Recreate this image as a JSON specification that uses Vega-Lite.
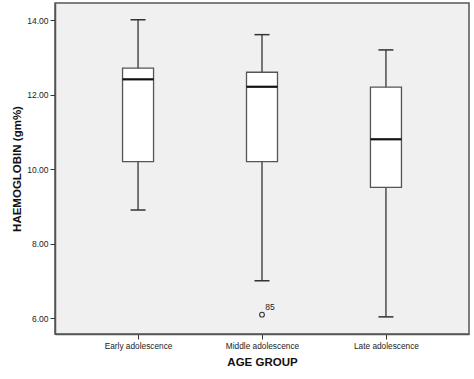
{
  "$schema": "https://vega.github.io/schema/vega-lite/v6.json",
  "width": 414,
  "height": 331,
  "autosize": {"type": "none"},
  "padding": {"left": 55, "top": 3, "right": 5, "bottom": 45},
  "background": "white",
  "config": {
    "view": {"fill": "#f0f0f0", "stroke": "#555", "strokeWidth": 1.5},
    "font": "Liberation Sans",
    "axis": {"grid": false, "domainColor": "#555", "domainWidth": 1.5, "tickColor": "#333", "labelColor": "#222", "labelFont": "Liberation Sans", "titleFont": "Liberation Sans", "titleColor": "#111"}
  },
  "datasets": {
    "boxes": [
      {"group": "Early adolescence", "low": 8.91, "q1": 10.21, "median": 12.42, "q3": 12.72, "high": 14.02},
      {"group": "Middle adolescence", "low": 7.01, "q1": 10.21, "median": 12.22, "q3": 12.61, "high": 13.62},
      {"group": "Late adolescence", "low": 6.04, "q1": 9.52, "median": 10.81, "q3": 12.21, "high": 13.21}
    ],
    "outliers": [
      {"group": "Middle adolescence", "value": 6.1, "label": "85"}
    ]
  },
  "data": {"name": "boxes"},
  "encoding": {
    "x": {
      "field": "group", "type": "nominal", "sort": null,
      "scale": {"type": "point", "padding": 0.67},
      "axis": {"title": "AGE GROUP", "titleFontSize": 11.5, "titleFontWeight": "bold", "titlePadding": 7, "labelFontSize": 8.3, "labelAngle": 0, "tickSize": 5, "labelPadding": 2}
    }
  },
  "layer": [
    {
      "mark": {"type": "rule", "color": "#333", "strokeWidth": 1.3},
      "encoding": {
        "y": {"field": "low", "type": "quantitative",
          "scale": {"domain": [5.58, 14.47], "nice": false, "zero": false},
          "axis": {"title": "HAEMOGLOBIN (gm%)", "titleFontSize": 11.5, "titleFontWeight": "bold", "titlePadding": 4, "values": [6, 8, 10, 12, 14], "format": ".2f", "labelFontSize": 8.5, "tickSize": 5, "labelPadding": 2}},
        "y2": {"field": "high"}
      }
    },
    {
      "mark": {"type": "bar", "fill": "white", "stroke": "#555", "strokeWidth": 1.3, "size": 31},
      "encoding": {
        "y": {"field": "q1", "type": "quantitative"},
        "y2": {"field": "q3"}
      }
    },
    {
      "mark": {"type": "tick", "color": "#111", "thickness": 2.2, "size": 31, "opacity": 1},
      "encoding": {"y": {"field": "median", "type": "quantitative"}}
    },
    {
      "mark": {"type": "tick", "color": "#333", "thickness": 1.5, "size": 15, "opacity": 1},
      "encoding": {"y": {"field": "high", "type": "quantitative"}}
    },
    {
      "mark": {"type": "tick", "color": "#333", "thickness": 1.5, "size": 15, "opacity": 1},
      "encoding": {"y": {"field": "low", "type": "quantitative"}}
    },
    {
      "data": {"name": "outliers"},
      "mark": {"type": "point", "shape": "circle", "filled": false, "stroke": "#333", "strokeWidth": 1.1, "size": 22, "opacity": 1},
      "encoding": {"y": {"field": "value", "type": "quantitative"}}
    },
    {
      "data": {"name": "outliers"},
      "mark": {"type": "text", "fontSize": 8.5, "color": "#222", "dx": 8, "dy": -8, "align": "center"},
      "encoding": {"y": {"field": "value", "type": "quantitative"}, "text": {"field": "label"}}
    }
  ]
}
